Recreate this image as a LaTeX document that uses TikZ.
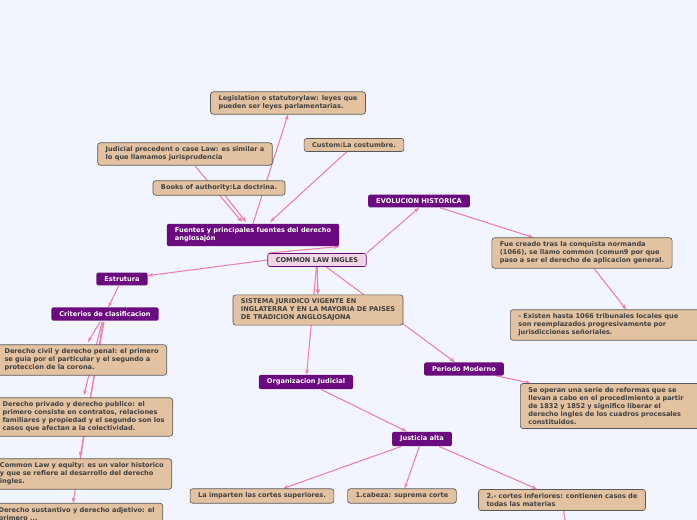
\documentclass[tikz,border=0pt]{standalone}
\usepackage{fontspec}
\setmainfont{DejaVu Sans}
\usetikzlibrary{arrows.meta}
\pgfdeclarelayer{background}
\pgfsetlayers{background,main}

\definecolor{bgc}{HTML}{F2F5FE}
\definecolor{tanc}{HTML}{E3C2A1}
\definecolor{purp}{HTML}{6B0A7E}
\definecolor{pinkc}{HTML}{EE7FAF}

\begin{document}
\begin{tikzpicture}[x=0.75pt,y=-0.75pt,font=\fontsize{4.95}{6}\selectfont\bfseries,
    topic/.style={draw=black!65,fill=tanc,rounded corners=2pt,line width=.5pt,text=black!75,align=left,inner xsep=6pt,inner ysep=3pt},
    head/.style={fill=purp,rounded corners=1.5pt,text=white,align=left,inner xsep=6pt,inner ysep=3pt},
    link/.style={-{Stealth[length=4pt,width=3pt]},pinkc,line width=.8pt}]

\clip (0,0) rectangle (697,520);

% centre
\node [draw=purp,fill=pink!60!violet!30,rounded corners=1.5pt,text=black!80,inner xsep=6pt,inner ysep=3pt] (root) at (317,260) {COMMON LAW INGLES};

% fuentes
\node [head] (fuentes) at (253,235) {Fuentes y principales fuentes del derecho\hspace{30pt}\\anglosajón};
\node [topic] (legis) at (288,103) {Legislation o statutorylaw: leyes que\\pueden ser leyes parlamentarias.};
\node [topic] (judic) at (185,154) {Judicial precedent o case Law: es similar a\\lo que llamamos jurisprudencia};
\node [topic] (custom) at (354,145) {Custom:La costumbre.};
\node [topic] (books) at (219,188) {Books of authority:La doctrina.};

% evolucion
\node [head] (evol) at (419,201) {EVOLUCION HISTORICA};
\node [topic] (creado) at (582,253) {Fue creado tras la conquista normanda\\(1066), se llamo common (comun9 por que\\paso a ser el derecho de aplicacion general.};
\node [topic,anchor=west,text width=180pt] (existen) at (510,325) {- Existen hasta 1066 tribunales locales que\\son reemplazados progresivamente por\\jurisdicciones señoriales.};

% estructura
\node [head] (estru) at (122,279) {Estrutura};
\node [head] (criter) at (105,314) {Criterios de clasificacion};
\node [topic,anchor=east] (civil) at (167,360) {Derecho civil y derecho penal: el primero\\se guia por el particular y el segundo a\\proteccion de la corona.};
\node [topic,anchor=east] (privado) at (173,417) {Derecho privado y derecho publico: el\\primero consiste en contratos, relaciones\\familiares y propiedad y el segundo son los\\casos que afectan a la colectividad.};
\node [topic,anchor=east] (equity) at (172,474) {Common Law y equity: es un valor historico\\y que se refiere al desarrollo del derecho\\ingles.};
\node [topic,anchor=north east] (sustan) at (163,503) {Derecho sustantivo y derecho adjetivo: el\\primero ...};

% sistema
\node [topic] (sistema) at (318,310) {SISTEMA JURIDICO VIGENTE EN\hspace{20pt}\\INGLATERRA Y EN LA MAYORIA DE PAISES\\DE TRADICION ANGLOSAJONA};
\node [head] (moderno) at (464,369) {Periodo Moderno};
\node [topic,anchor=west,text width=165pt] (operan) at (520,406) {Se operan una serie de reformas que se\\llevan a cabo en el procedimiento a partir\\de 1832 y 1852 y significo liberar el\\derecho ingles de los cuadros procesales\\constituidos.};
\node [head] (organ) at (306,382) {Organizacion Judicial};
\node [head] (alta) at (422,439) {Justicia alta};
\node [topic] (imparten) at (262,496) {La imparten las cortes superiores.};
\node [topic] (cabeza) at (402,496) {1.cabeza: suprema corte};
\node [topic] (inferior) at (562,500) {2.- cortes inferiores: contienen casos de\\todas las materias};
\coordinate (below) at (565,520);

% connectors
\begin{pgfonlayer}{background}
\fill[bgc] (0,0) rectangle (697,520);
\draw [link] (root.north west) -- (fuentes.south east);
\draw [link] (fuentes.north) -- (legis.south);
\draw [link] (judic) -- (242,222);
\draw [link] (books) -- (246,222);
\draw [link] (custom) -- (270,222);
\draw [link] (root.north east) -- (evol.south);
\draw [link] (evol) -- (creado);
\draw [link] (creado) -- (existen);
\draw [link] (root.west) -- (estru);
\draw [link] (estru) -- (criter);
\draw [link] (100,322) -- (88,342);
\draw [link] (102,322) -- (84,395);
\draw [link] (104,322) -- (80,457);
\draw [link] (103,322) -- (73,503);
\draw [link] (root) -- (sistema);
\draw [link] (root) -- (sistema.north);
\draw [link] (root) -- (moderno);
\draw [link] (moderno) -- (operan);
\draw [link] (root) -- (organ);
\draw [link] (organ) -- (alta);
\draw [link] (alta) -- (imparten);
\draw [link] (alta) -- (cabeza);
\draw [link] (alta) -- (inferior);
\draw [pinkc,line width=.8pt] (inferior) -- (below);
\end{pgfonlayer}
\end{tikzpicture}
\end{document}
